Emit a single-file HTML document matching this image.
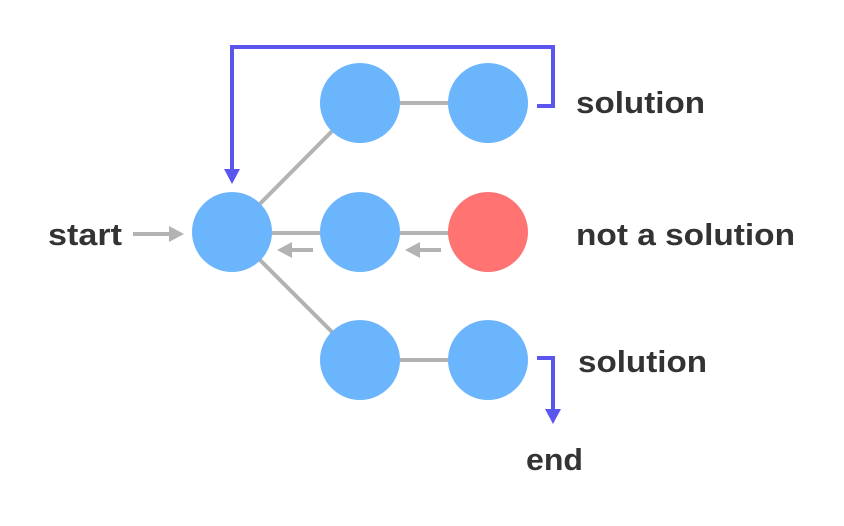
<!DOCTYPE html>
<html><head><style>body{margin:0;background:#fff}</style></head><body>
<svg width="844" height="526" viewBox="0 0 844 526" xmlns="http://www.w3.org/2000/svg" style="display:block">
<g stroke="#b3b3b3" stroke-width="4" fill="none">
<line x1="232" y1="232" x2="360" y2="103"/>
<line x1="232" y1="232" x2="360" y2="360"/>
<line x1="232" y1="233" x2="488" y2="233"/>
<line x1="360" y1="103" x2="488" y2="103"/>
<line x1="360" y1="360" x2="488" y2="360"/>
<line x1="133" y1="234" x2="170" y2="234"/>
<line x1="313" y1="250" x2="290" y2="250"/>
<line x1="441" y1="250" x2="418" y2="250"/>
</g>
<g fill="#b3b3b3">
<polygon points="184,234 169,226 169,242"/>
<polygon points="277,250 292,242 292,258"/>
<polygon points="405,250 420,242 420,258"/>
</g>
<g stroke="#5b55f0" stroke-width="4" fill="none">
<polyline points="537,106 553,106 553,47 232,47 232,170"/>
<polyline points="537,358 553,358 553,410"/>
</g>
<g fill="#5b55f0">
<polygon points="232,184 224,169 240,169"/>
<polygon points="553,424 545,409 561,409"/>
</g>
<g fill="#6bb5fd">
<circle cx="232" cy="232" r="40"/>
<circle cx="360" cy="103" r="40"/>
<circle cx="488" cy="103" r="40"/>
<circle cx="360" cy="232" r="40"/>
<circle cx="360" cy="360" r="40"/>
<circle cx="488" cy="360" r="40"/>
</g>
<circle cx="488" cy="232" r="40" fill="#ff7373"/>
<g font-family="Liberation Sans, sans-serif" font-weight="bold" font-size="31" fill="#333">
<text x="48" y="245" textLength="74" lengthAdjust="spacingAndGlyphs">start</text>
<text x="576" y="113" textLength="129" lengthAdjust="spacingAndGlyphs">solution</text>
<text x="576" y="245" textLength="219" lengthAdjust="spacingAndGlyphs">not a solution</text>
<text x="578" y="372" textLength="129" lengthAdjust="spacingAndGlyphs">solution</text>
<text x="526" y="470" textLength="57" lengthAdjust="spacingAndGlyphs">end</text>
</g>
</svg>
</body></html>
